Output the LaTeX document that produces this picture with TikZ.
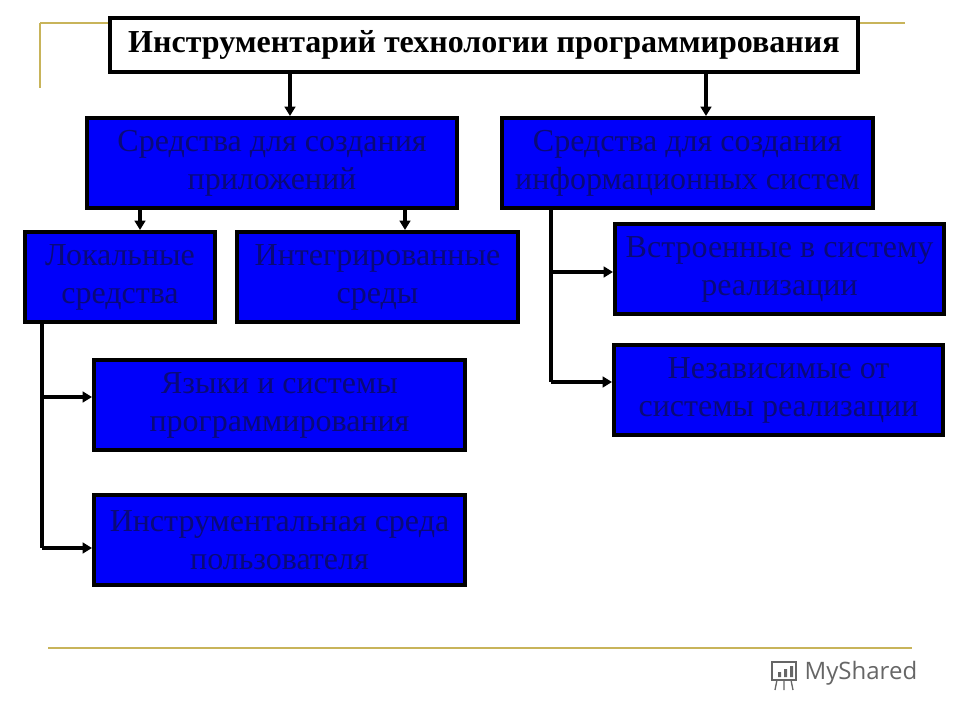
\documentclass[tikz,border=0pt]{standalone}
\usepackage{fontspec}
\setmainfont{Liberation Serif}
\newfontfamily\logofont{Open Sans}
\usetikzlibrary{arrows.meta}
\definecolor{gold}{RGB}{200,180,90}
\definecolor{boxblue}{RGB}{0,0,250}
\definecolor{txtblue}{RGB}{10,10,120}
\tikzset{
 bx/.style={draw=black,line width=3pt,fill=boxblue,text=txtblue,align=center,font=\fontsize{24}{28.5}\selectfont,inner sep=0pt},
 arr/.style={line width=2.6pt,-{Triangle[length=7pt,width=8pt]}},
 ln/.style={line width=2.6pt},
}
\begin{document}
\begin{tikzpicture}[x=0.75pt,y=-0.75pt]
\useasboundingbox (0,0) rectangle (960,720);
\draw[gold,line width=1.5pt] (40,23) -- (905,23);
\draw[gold,line width=1.5pt] (40,23) -- (40,88);
\draw[gold,line width=1.5pt] (48,648) -- (912,648);
\node[draw=black,line width=3pt,fill=white,minimum width=748*0.75pt,minimum height=54*0.75pt,font=\bfseries\fontsize{24}{26}\selectfont] (top) at (484,45) {Инструментарий технологии программирования};
\node[bx,minimum width=370*0.75pt,minimum height=90*0.75pt] (A) at (272,163) {Средства для создания\\приложений};
\node[bx,minimum width=371*0.75pt,minimum height=90*0.75pt] (B) at (687.5,163) {Средства для создания\\информационных систем};
\node[bx,minimum width=190*0.75pt,minimum height=90*0.75pt] (L) at (120,277) {Локальные\\средства};
\node[bx,minimum width=281*0.75pt,minimum height=90*0.75pt] (I) at (377.5,277) {Интегрированные\\среды};
\node[bx,minimum width=329*0.75pt,minimum height=90*0.75pt] (V) at (779.5,269) {Встроенные в систему\\реализации};
\node[bx,minimum width=329*0.75pt,minimum height=90*0.75pt] (N) at (778.5,390) {Независимые от\\системы реализации};
\node[bx,minimum width=371*0.75pt,minimum height=90*0.75pt] (Y) at (279.5,405) {Языки и системы\\программирования};
\node[bx,minimum width=371*0.75pt,minimum height=90*0.75pt] (S) at (279.5,540) {Инструментальная среда\\пользователя};
\draw[arr] (top.south -| 290,0) -- (A.north -| 290,0);
\draw[arr] (top.south -| 706,0) -- (B.north -| 706,0);
\draw[arr] (A.south -| 140,0) -- (L.north -| 140,0);
\draw[arr] (A.south -| 405,0) -- (I.north -| 405,0);
\coordinate (bl) at (551,382);
\draw[ln] (B.south -| bl) -- (bl);
\draw[arr] (551,272) -- (V.west |- 0,272);
\draw[arr] (bl) -- (N.west |- bl);
\coordinate (ll) at (42,548);
\draw[ln] (L.south -| ll) -- (ll);
\draw[arr] (42,397) -- (Y.west |- 0,397);
\draw[arr] (ll) -- (S.west |- ll);
\node[text=gray!80!black,font=\logofont\fontsize{18}{20}\selectfont,anchor=west] (logo) at (800,673) {MyShared};
\draw[gray!80!black,line width=1pt] (772,662) rectangle (796,680);
\fill[gray!80!black] (778,672) rectangle (781,677) (784,669) rectangle (787,677) (790,666) rectangle (793,677);
\draw[gray!80!black,line width=1pt] (777,680) -- (775,690) (784,680) -- (784,690) (791,680) -- (793,690);
\end{tikzpicture}
\end{document}
